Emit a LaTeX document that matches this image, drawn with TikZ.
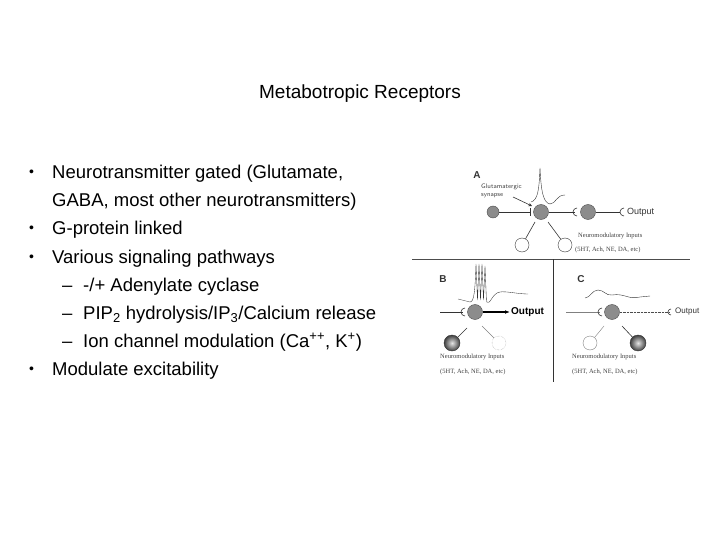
\documentclass[tikz,border=0pt]{standalone}
\usepackage{fontspec}
\usetikzlibrary{arrows.meta}
\setmainfont{Liberation Sans}
\newfontfamily\serifsmall{Liberation Serif}
\begin{document}
\begin{tikzpicture}[x=1pt,y=-1pt,
  txt/.style={anchor=base west,inner sep=0pt,font=\fontsize{18.5}{22}\selectfont},
  bul/.style={anchor=base west,inner sep=0pt,font=\fontsize{14}{14}\selectfont,yshift=2pt},
  lab/.style={anchor=west,inner sep=0pt,font=\serifsmall\fontsize{6.5}{7}\selectfont,text=black!75},
  panel/.style={inner sep=0pt,font=\bfseries\fontsize{10}{12}\selectfont,text=black!80},
  gcell/.style={circle,draw=black!70,fill=black!45,minimum size=15pt,inner sep=0pt},
  wcell/.style={circle,draw=black!80,fill=white,minimum size=14pt,inner sep=0pt},
  dcell/.style={circle,draw=black!80,inner color=black!10,outer color=black!75,minimum size=16pt,inner sep=0pt},
  ln/.style={draw=black!80,line width=0.6pt}]
\useasboundingbox (0,0) rectangle (720,540);
\node[inner sep=0pt,font=\fontsize{19}{22}\selectfont] (title) at (360,94) {Metabotropic Receptors};
% bullets
\node[bul] (b1) at (29,179) {•};
\node[txt] (t1) at (52,179) {Neurotransmitter gated (Glutamate,};
\node[txt] (t1b) at (52,207) {GABA, most other neurotransmitters)};
\node[bul] (b2) at (29,235) {•};
\node[txt] (t2) at (52,235) {G-protein linked};
\node[bul] (b3) at (29,263) {•};
\node[txt] (t3) at (52,263) {Various signaling pathways};
\node[txt] (d1) at (62,291) {–};
\node[txt] (s1) at (83,291) {-/+ Adenylate cyclase};
\node[txt] (d2) at (62,319) {–};
\node[txt] (s2) at (83,319) {PIP\textsubscript{2} hydrolysis/IP\textsubscript{3}/Calcium release};
\node[txt] (d3) at (62,347) {–};
\node[txt] (s3) at (83,347) {Ion channel modulation (Ca\textsuperscript{++}, K\textsuperscript{+})};
\node[bul] (b4) at (29,375) {•};
\node[txt] (t4) at (52,375) {Modulate excitability};
% dividers
\draw[black!70,line width=0.8pt] (412,259) -- (690,259);
\draw[black!80,line width=0.8pt] (553,259) -- (553,382);
% Panel A
\node[panel] (A) at (477,175) {A};
\node[lab,font=\sffamily\fontsize{6.5}{7}\selectfont] (glu) at (481,187) {Glutamatergic};
\node[lab,font=\sffamily\fontsize{6.5}{7}\selectfont] (syn) at (481,196) {synapse};
\node[gcell,minimum size=12pt] (aL) at (493,212) {};
\node[gcell] (aC) at (541,212) {};
\node[gcell] (aR) at (588,212) {};
\node[wcell] (aW1) at (522,245) {};
\node[wcell] (aW2) at (565,245) {};
\draw[ln] (aL) -- (530,212);
\draw[ln] (530,208) -- (530,216);
\draw[ln] (aC) -- (575,212);
\draw[ln] (577,208) arc (90:270:4pt);
\draw[ln] (aR) -- (620,212);
\draw[ln] (624,208) arc (90:270:4pt);
\node[inner sep=0pt,anchor=west,font=\fontsize{9}{10}\selectfont,text=black!80] (aout) at (627,212) {Output};
\draw[ln] (aW1) -- (535,222);
\draw[ln] (aW2) -- (548,222);
\draw[ln,->,>=stealth] (513,197) -- (532,206);
\draw[ln,line width=0.4pt] (531,202) .. controls (538,200) and (539,190) .. (540,168) .. controls (541,190) and (543,203) .. (550,204) .. controls (556,204) and (556,195) .. (565,195);
\node[lab] (an1) at (578,236) {Neuromodulatory Inputs};
\node[lab] (an2) at (575,250) {(5HT, Ach, NE, DA, etc)};
% Panel B
\node[panel] (B) at (443,279) {B};
\node[gcell] (bC) at (475,312) {};
\coordinate (bLs) at (440,312);
\draw[ln] (bLs) -- (463,312);
\draw[ln] (465,308) arc (90:270:4pt);
\draw[black,line width=2.5pt,-{Latex[length=5pt]}] (bC) -- (510,312);
\node[inner sep=0pt,anchor=west,font=\bfseries\fontsize{10}{12}\selectfont] (bout) at (511,312) {Output};
\node[dcell] (bD) at (452,343) {};
\node[wcell,draw=black!40,densely dotted] (bW) at (499,343) {};
\draw[ln] (bD) -- (467,328);
\draw[black!50,line width=0.4pt] (bW) -- (482,326);
\draw[black!80,line width=0.35pt] (458,299) -- (470,302) .. controls (474,302) and (475,292) .. (476,264) -- (477.5,300) -- (479,264) -- (480.5,300) -- (482,264) -- (483.5,300) -- (485,266) -- (486.5,302) .. controls (490,306) and (492,293) .. (500,292) .. controls (506,291) and (518,294) .. (528,294);
\node[lab] (bn1) at (440,357) {Neuromodulatory Inputs};
\node[lab] (bn2) at (440,372) {(5HT, Ach, NE, DA, etc)};
% Panel C
\node[panel] (C) at (581,279) {C};
\node[gcell] (cC) at (612,312) {};
\coordinate (cLs) at (566,312);
\draw[black!50,line width=1pt] (cLs) -- (600,312);
\draw[ln] (602,308) arc (90:270:4pt);
\draw[black!70,densely dotted] (cC) -- (670,312);
\draw[ln] (671,309) arc (90:270:3pt);
\node[inner sep=0pt,anchor=west,font=\fontsize{8}{10}\selectfont,text=black!80] (cout) at (675,312) {Output};
\node[wcell,draw=black!50] (cW) at (590,343) {};
\node[dcell] (cD) at (638,343) {};
\draw[black!50,line width=0.4pt] (cW) -- (604,326);
\draw[ln] (cD) -- (622,326);
\draw[black!80,line width=0.4pt] (585,298) .. controls (590,298) and (592,290) .. (598,290) .. controls (604,290) and (606,296) .. (612,295) .. controls (625,293) and (628,300) .. (640,297) -- (650,296);
\node[lab] (cn1) at (572,357) {Neuromodulatory Inputs};
\node[lab] (cn2) at (572,372) {(5HT, Ach, NE, DA, etc)};
\end{tikzpicture}
\end{document}
